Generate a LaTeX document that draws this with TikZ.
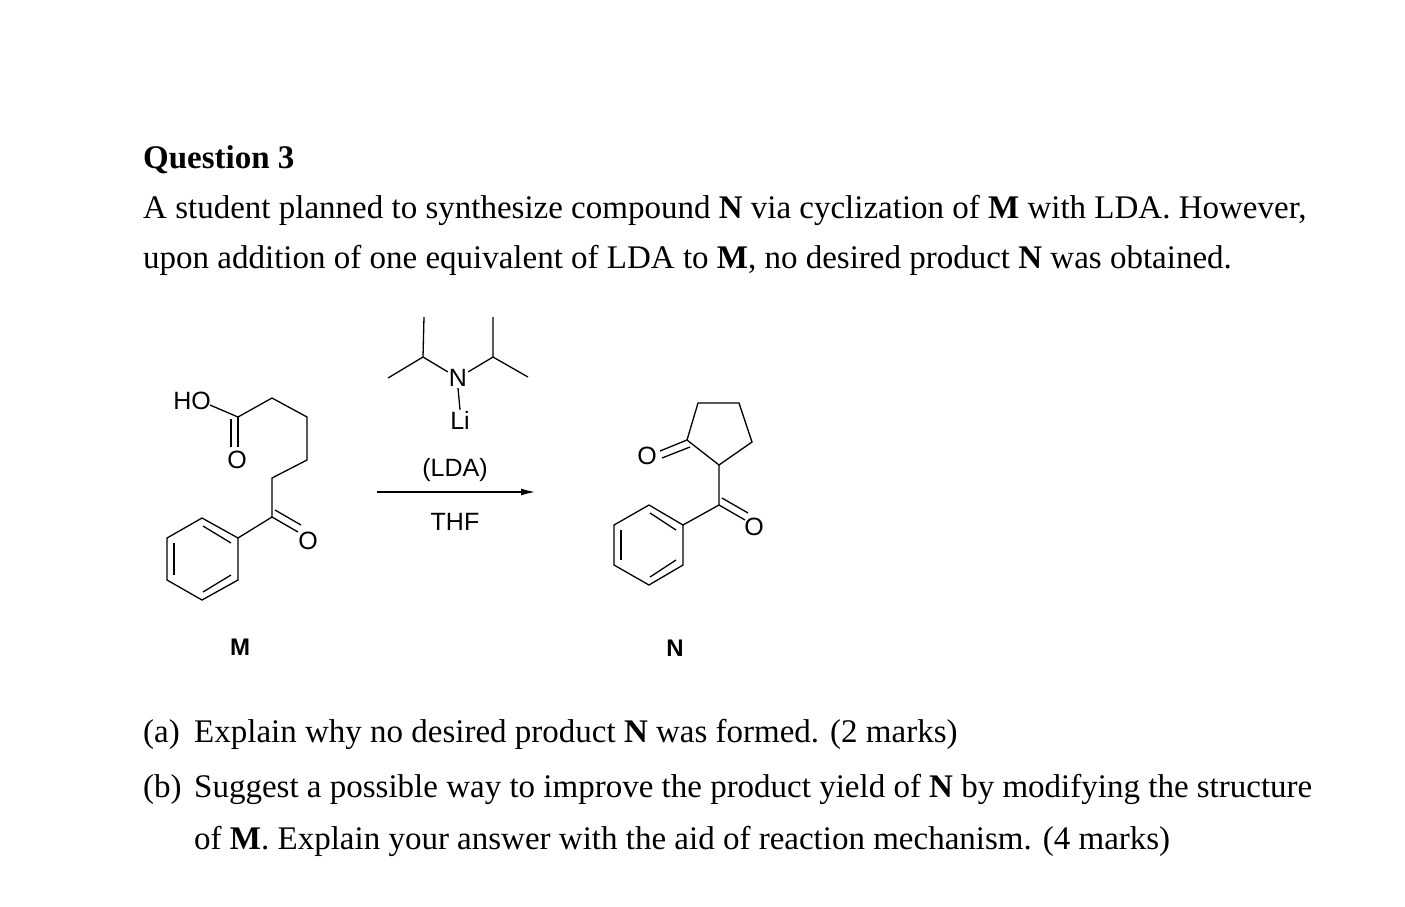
\documentclass[tikz,border=0pt]{standalone}
\usepackage{fontspec}
\setmainfont{Liberation Serif}
\newfontfamily\chem{Liberation Sans}
\usetikzlibrary{arrows.meta}
\tikzset{txt/.style={anchor=base west,inner sep=0,font=\fontsize{33}{38}\selectfont},
bd/.style={line width=1.3pt},
atm/.style={inner sep=1pt,font=\chem\fontsize{25}{27}\selectfont},
lab/.style={inner sep=0,font=\chem\bfseries\fontsize{24}{26}\selectfont}}
\begin{document}
\begin{tikzpicture}[x=1pt,y=-1pt]
\useasboundingbox[fill=white] (0,0) rectangle (1405,906);
\node[txt] (q) at (143,168) {\textbf{Question 3}};
\node[txt] (l1) at (143,218) {A student planned to synthesize compound \textbf{N} via cyclization of \textbf{M} with LDA. However,};
\node[txt] (l2) at (143,268) {upon addition of one equivalent of LDA to \textbf{M}, no desired product \textbf{N} was obtained.};
\node[txt] (a0) at (143,742) {(a)};
\node[txt] (a) at (194,742) {Explain why no desired product \textbf{N} was formed. (2 marks)};
\node[txt] (b0) at (143,797) {(b)};
\node[txt] (b) at (194,797) {Suggest a possible way to improve the product yield of \textbf{N} by modifying the structure};
\node[txt] (c) at (194,849) {of \textbf{M}. Explain your answer with the aid of reaction mechanism. (4 marks)};
% M
\node[atm] (ho) at (192,401) {HO};
\node[atm] (o1) at (237,460) {O};
\node[atm] (o2) at (308,541) {O};
\draw[bd] (ho.east) ++(-2,4) -- (238,417) -- (272,398) -- (307,417) -- (307,460) -- (272,478) -- (272,517) -- (238,538);
\draw[bd] (238,417) -- (238,447); \draw[bd] (231,419) -- (231,447);
\draw[bd] (272,517) -- (298,532); \draw[bd] (275,510) -- (301,525);
\draw[bd] (238,538) -- (238,580) -- (202,600) -- (167,580) -- (167,538) -- (202,518) -- cycle;
\draw[bd] (174,543) -- (174,575); \draw[bd] (231,575) -- (203,592); \draw[bd] (203,526) -- (231,543);
\node[lab] (m) at (240,647) {M};
% LDA
\node[atm] (n) at (458,378) {N};
\node[atm] (li) at (460,420) {Li};
\draw[bd] (n) -- (423,357) -- (424,317); \draw[bd] (423,357) -- (388,378);
\draw[bd] (n) -- (493,357) -- (493,317); \draw[bd] (493,357) -- (528,377);
\draw[bd] (n.south) -- (li.north);
\node[atm] (lda) at (455,470) {(LDA)};
\node[atm] (thf) at (455,522) {THF};
\coordinate (a1) at (377,492); \coordinate (a2) at (535,492);
\draw[line width=1.3pt,-{Latex[length=14pt,width=7pt]}] (a1) -- (a2);
% N
\node[atm] (o3) at (647,456) {O};
\node[atm] (o4) at (754,527) {O};
\draw[bd] (698,403) -- (739,403) -- (752,442) -- (719,465) -- (687,440) -- cycle;
\draw[bd] (687,440) -- (660,451); \draw[bd] (690,447) -- (662,458);
\draw[bd] (719,465) -- (719,505) -- (683,525);
\draw[bd] (719,505) -- (745,520); \draw[bd] (722,498) -- (748,513);
\draw[bd] (683,525) -- (683,565) -- (649,585) -- (614,565) -- (614,525) -- (649,505) -- cycle;
\draw[bd] (621,530) -- (621,560); \draw[bd] (676,560) -- (650,577); \draw[bd] (650,513) -- (676,530);
\node[lab] (nn) at (675,648) {N};
\end{tikzpicture}
\end{document}
